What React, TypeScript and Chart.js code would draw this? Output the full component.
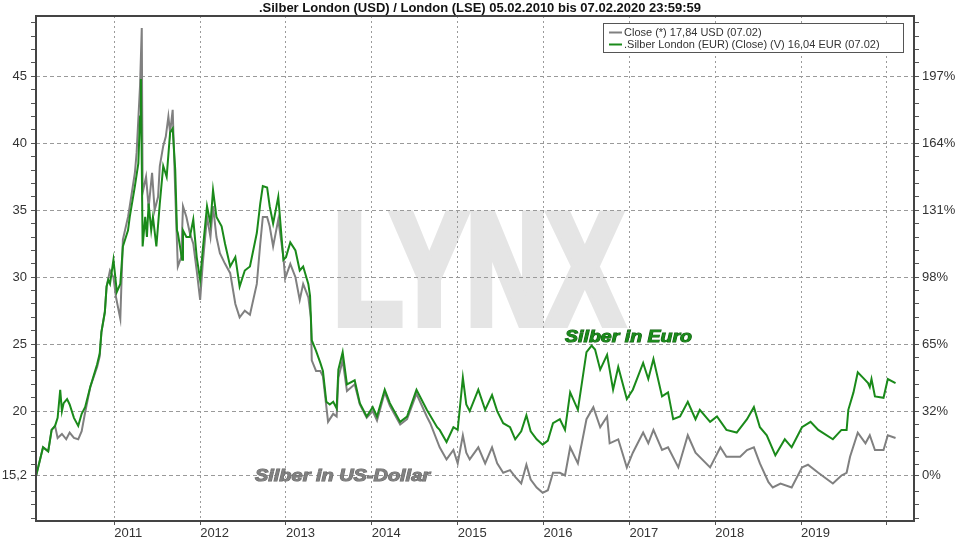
import React, { useEffect, useRef } from 'react';
import { Chart, registerables } from 'chart.js';

Chart.register(...registerables);

const FONT = '"Liberation Sans", Arial, sans-serif';

const TITLE = '.Silber London (USD) / London (LSE) 05.02.2010 bis 07.02.2020 23:59:59';
const LEGEND_LABELS = ['Close (*) 17,84 USD (07.02)', '.Silber London (EUR) (Close) (V) 16,04 EUR (07.02)'];
const LABEL_EUR = 'Silber in Euro';
const LABEL_USD = 'Silber in US-Dollar';
const WATERMARK = 'LYNX';

const YEAR_TICKS = [2011, 2012, 2013, 2014, 2015, 2016, 2017, 2018, 2019, 2020];
const YEAR_LABELS = ['2011', '2012', '2013', '2014', '2015', '2016', '2017', '2018', '2019', ''];
const LEFT_TICKS = [15.2, 20, 25, 30, 35, 40, 45];
const LEFT_LABELS = ['15,2', '20', '25', '30', '35', '40', '45'];
const RIGHT_LABELS = ['0%', '32%', '65%', '98%', '131%', '164%', '197%'];
const MINOR_TICKS = [12, 13, 14, 16, 17, 18, 19, 21, 22, 23, 24, 26, 27, 28, 29, 31, 32, 33, 34, 36, 37, 38, 39, 41, 42, 43, 44, 46, 47, 48, 49];

const X_MIN = 2010.088;
const X_MAX = 2020.315;
const Y_MIN = 11.8;
const Y_MAX = 49.5;

// Close (USD)
const usdDates = [
  2010.09, 2010.17, 2010.23, 2010.27, 2010.31, 2010.34, 2010.39, 2010.44, 2010.48, 2010.53,
  2010.58, 2010.62, 2010.66, 2010.72, 2010.80, 2010.83, 2010.85, 2010.89, 2010.91, 2010.95,
  2010.99, 2011.02, 2011.07, 2011.10, 2011.16, 2011.18, 2011.24, 2011.26, 2011.30, 2011.32,
  2011.33, 2011.37, 2011.40, 2011.44, 2011.47, 2011.51, 2011.53, 2011.57, 2011.60, 2011.63,
  2011.65, 2011.68, 2011.71, 2011.73, 2011.74, 2011.78, 2011.80, 2011.84, 2011.88, 2011.92,
  2011.96, 2012.00, 2012.03, 2012.08, 2012.12, 2012.15, 2012.19, 2012.23, 2012.29, 2012.35,
  2012.41, 2012.46, 2012.52, 2012.58, 2012.66, 2012.70, 2012.73, 2012.78, 2012.81, 2012.85,
  2012.91, 2012.97, 2012.99, 2013.05, 2013.11, 2013.16, 2013.20, 2013.26, 2013.29, 2013.30,
  2013.35, 2013.40, 2013.43, 2013.49, 2013.55, 2013.59, 2013.61, 2013.66, 2013.71, 2013.80,
  2013.86, 2013.94, 2014.01, 2014.06, 2014.15, 2014.21, 2014.33, 2014.41, 2014.52, 2014.64,
  2014.68, 2014.79, 2014.87, 2014.95, 2015.00, 2015.06, 2015.10, 2015.14, 2015.24, 2015.32,
  2015.40, 2015.46, 2015.53, 2015.61, 2015.67, 2015.74, 2015.80, 2015.85, 2015.92, 2015.99,
  2016.05, 2016.11, 2016.19, 2016.25, 2016.31, 2016.40, 2016.50, 2016.58, 2016.66, 2016.74,
  2016.77, 2016.87, 2016.97, 2017.04, 2017.16, 2017.22, 2017.28, 2017.38, 2017.45, 2017.57,
  2017.68, 2017.77, 2017.94, 2018.06, 2018.13, 2018.29, 2018.37, 2018.45, 2018.52, 2018.62,
  2018.67, 2018.76, 2018.89, 2019.01, 2019.08, 2019.20, 2019.37, 2019.47, 2019.53, 2019.57,
  2019.66, 2019.75, 2019.80, 2019.86, 2019.96, 2020.01, 2020.10,
];
const usdValues = [
  15.2, 17.3, 17.0, 18.6, 18.9, 18.0, 18.3, 17.9, 18.4, 18.0,
  17.9, 18.5, 19.9, 21.8, 23.3, 24.1, 25.9, 27.4, 29.3, 30.5,
  30.0, 28.5, 26.9, 32.8, 34.5, 35.3, 37.8, 39.3, 44.3, 48.6,
  36.3, 37.5, 35.2, 37.8, 35.0, 36.0, 38.3, 39.8, 40.5, 42.0,
  40.8, 42.5, 36.3, 32.6, 30.8, 31.5, 35.3, 34.5, 33.3, 32.5,
  30.5, 28.3, 31.0, 34.5, 33.0, 35.3, 33.0, 31.8, 31.0, 30.3,
  28.0, 27.0, 27.5, 27.2, 29.5, 32.5, 34.5, 34.5, 33.8, 32.3,
  34.3, 31.5, 29.9, 31.0, 30.0, 28.3, 29.5, 28.5, 27.0, 23.8,
  23.0, 23.0, 22.6, 19.2, 19.8, 19.6, 22.5, 23.8, 21.5, 22.0,
  20.5, 19.5, 20.0, 19.3, 21.4, 20.4, 19.0, 19.4, 21.3, 19.6,
  19.1, 17.3, 16.4, 17.1, 16.1, 18.2, 16.9, 16.4, 17.3, 16.1,
  17.3, 16.1, 15.4, 15.6, 15.1, 14.6, 16.0, 14.9, 14.3, 13.9,
  14.1, 15.4, 15.4, 15.2, 17.3, 16.1, 19.4, 20.3, 18.8, 19.6,
  17.6, 17.9, 15.8, 16.9, 18.4, 17.6, 18.6, 17.1, 17.3, 15.8,
  18.2, 16.9, 15.8, 17.3, 16.6, 16.6, 17.1, 17.3, 16.1, 14.7,
  14.3, 14.6, 14.3, 15.8, 16.0, 15.4, 14.6, 15.2, 15.4, 16.6,
  18.4, 17.6, 18.2, 17.1, 17.1, 18.2, 18.0,
];

// .Silber London (EUR), rebased (V)
const eurDates = [
  2010.09, 2010.17, 2010.23, 2010.27, 2010.31, 2010.34, 2010.37, 2010.39, 2010.41, 2010.45,
  2010.48, 2010.53, 2010.58, 2010.62, 2010.66, 2010.72, 2010.80, 2010.83, 2010.85, 2010.89,
  2010.91, 2010.93, 2010.95, 2010.99, 2011.03, 2011.07, 2011.10, 2011.16, 2011.18, 2011.24,
  2011.28, 2011.30, 2011.31, 2011.33, 2011.36, 2011.38, 2011.40, 2011.43, 2011.45, 2011.49,
  2011.53, 2011.57, 2011.61, 2011.65, 2011.68, 2011.71, 2011.73, 2011.74, 2011.79, 2011.80,
  2011.84, 2011.88, 2011.92, 2011.96, 2012.00, 2012.03, 2012.08, 2012.12, 2012.15, 2012.19,
  2012.25, 2012.29, 2012.35, 2012.41, 2012.46, 2012.52, 2012.58, 2012.66, 2012.70, 2012.73,
  2012.78, 2012.81, 2012.85, 2012.91, 2012.97, 2013.00, 2013.05, 2013.11, 2013.16, 2013.20,
  2013.26, 2013.28, 2013.30, 2013.35, 2013.40, 2013.43, 2013.47, 2013.51, 2013.55, 2013.59,
  2013.61, 2013.66, 2013.71, 2013.80, 2013.86, 2013.94, 2014.01, 2014.06, 2014.15, 2014.21,
  2014.33, 2014.41, 2014.52, 2014.64, 2014.76, 2014.79, 2014.87, 2014.95, 2015.00, 2015.06,
  2015.10, 2015.14, 2015.24, 2015.32, 2015.40, 2015.46, 2015.53, 2015.61, 2015.67, 2015.74,
  2015.80, 2015.85, 2015.92, 2015.99, 2016.05, 2016.11, 2016.19, 2016.25, 2016.31, 2016.40,
  2016.50, 2016.56, 2016.60, 2016.66, 2016.74, 2016.81, 2016.87, 2016.97, 2017.04, 2017.16,
  2017.22, 2017.28, 2017.38, 2017.45, 2017.51, 2017.59, 2017.68, 2017.77, 2017.82, 2017.94,
  2018.02, 2018.13, 2018.25, 2018.37, 2018.45, 2018.52, 2018.60, 2018.70, 2018.81, 2018.89,
  2019.01, 2019.11, 2019.20, 2019.37, 2019.47, 2019.53, 2019.55, 2019.61, 2019.66, 2019.72,
  2019.78, 2019.80, 2019.82, 2019.86, 2019.96, 2020.01, 2020.10,
];
const eurValues = [
  15.2, 17.3, 17.0, 18.6, 18.9, 19.5, 21.6, 20.0, 20.6, 20.9,
  20.5, 19.5, 18.9, 19.8, 20.3, 21.8, 23.5, 24.3, 25.9, 27.4,
  29.3, 29.8, 29.5, 31.3, 28.9, 29.5, 32.3, 33.5, 34.5, 36.8,
  38.5, 42.0, 44.8, 32.3, 34.5, 33.0, 35.5, 33.5, 34.5, 32.3,
  35.5, 38.3, 37.5, 40.8, 41.1, 38.0, 33.5, 33.3, 31.3, 33.5,
  33.0, 33.0, 34.3, 31.5, 29.8, 32.0, 35.3, 34.0, 36.5, 34.5,
  33.8, 32.5, 30.8, 31.5, 29.3, 30.5, 30.8, 33.3, 35.5, 36.8,
  36.7, 35.3, 34.0, 36.0, 31.3, 31.5, 32.6, 32.0, 30.5, 30.8,
  29.5, 28.6, 25.3, 24.5, 23.6, 23.0, 20.7, 20.5, 20.7, 20.2,
  23.1, 24.4, 22.0, 22.3, 20.6, 19.6, 20.3, 19.6, 21.6, 20.6,
  19.2, 19.6, 21.6, 20.1, 18.8, 18.6, 17.7, 18.8, 18.6, 22.5,
  20.5, 20.0, 21.6, 20.1, 21.2, 20.0, 19.1, 18.8, 17.9, 18.5,
  19.7, 18.5, 17.9, 17.5, 17.8, 19.1, 19.4, 18.6, 21.4, 20.1,
  24.4, 24.9, 24.6, 23.1, 24.2, 21.6, 23.3, 20.9, 21.6, 23.6,
  22.4, 23.9, 21.1, 21.4, 19.4, 19.6, 20.7, 19.4, 20.1, 19.2,
  19.6, 18.6, 18.4, 19.4, 20.3, 18.8, 18.2, 16.7, 17.9, 17.3,
  18.8, 19.2, 18.6, 17.9, 18.6, 18.6, 20.1, 21.4, 22.9, 22.5,
  22.1, 21.8, 22.4, 21.1, 21.0, 22.4, 22.1,
];

const GREEN = '#1a8a1a';
const GREY = '#808080';

const findIdx = (arr: number[], v: number) => arr.findIndex((a) => Math.abs(a - v) < 1e-6);

const decorPlugin = {
  id: 'decor',
  beforeDraw(chart: any) {
    const { ctx } = chart;
    ctx.save();
    ctx.fillStyle = '#ffffff';
    ctx.fillRect(0, 0, chart.width, chart.height);
    // watermark
    ctx.font = `bold 155px "Liberation Sans Narrow", "Liberation Sans", Arial, sans-serif`;
    ctx.textBaseline = 'alphabetic';
    ctx.textAlign = 'left';
    const w = ctx.measureText(WATERMARK).width;
    ctx.translate(334, 323);
    ctx.scale(288 / w, 1);
    ctx.fillStyle = '#e5e5e5';
    ctx.strokeStyle = '#e5e5e5';
    ctx.lineWidth = 10;
    ctx.lineJoin = 'miter';
    ctx.strokeText(WATERMARK, 0, 0);
    ctx.fillText(WATERMARK, 0, 0);
    ctx.restore();
  },
  afterDatasetsDraw(chart: any) {
    const { ctx, chartArea: a } = chart;
    const drawFit = (text: string, x: number, y: number, width: number, color: string) => {
      ctx.save();
      ctx.font = `italic bold 17px ${FONT}`;
      ctx.textBaseline = 'alphabetic';
      ctx.textAlign = 'left';
      const w = ctx.measureText(text).width;
      ctx.translate(x, y);
      ctx.scale(width / w, 1);
      ctx.lineWidth = 1;
      ctx.strokeStyle = color === GREEN ? '#0d5a0d' : '#666666';
      ctx.strokeText(text, 0, 0);
      ctx.fillStyle = color;
      ctx.fillText(text, 0, 0);
      ctx.restore();
    };
    drawFit(LABEL_EUR, 565, 342, 127, GREEN);
    drawFit(LABEL_USD, 255, 481, 175, GREY);
    // frame
    ctx.save();
    ctx.strokeStyle = '#444444';
    ctx.lineWidth = 2;
    ctx.strokeRect(a.left, a.top, a.right - a.left, a.bottom - a.top);
    ctx.restore();
  },
  afterDraw(chart: any) {
    const { ctx } = chart;
    ctx.save();
    ctx.fillStyle = '#111111';
    ctx.font = `bold 13px ${FONT}`;
    ctx.textAlign = 'center';
    ctx.textBaseline = 'middle';
    ctx.fillText(TITLE, 480, 8.5);
    // legend box
    ctx.fillStyle = '#ffffff';
    ctx.fillRect(603.5, 23.5, 300, 29);
    ctx.strokeStyle = '#555555';
    ctx.lineWidth = 1;
    ctx.strokeRect(603.5, 23.5, 300, 29);
    const rows = [
      { y: 32.5, color: GREY, text: LEGEND_LABELS[0] },
      { y: 44.5, color: GREEN, text: LEGEND_LABELS[1] },
    ];
    ctx.font = `11px ${FONT}`;
    ctx.textAlign = 'left';
    rows.forEach((r) => {
      ctx.strokeStyle = r.color;
      ctx.lineWidth = 2;
      ctx.beginPath();
      ctx.moveTo(609, r.y);
      ctx.lineTo(622, r.y);
      ctx.stroke();
      ctx.fillStyle = '#333333';
      ctx.fillText(r.text, 624, r.y + 0.5);
    });
    ctx.restore();
  },
};

export default function App() {
  const ref = useRef<HTMLCanvasElement | null>(null);

  useEffect(() => {
    if (!ref.current) return;
    const usd = usdDates.map((d, i) => ({ x: d, y: usdValues[i] }));
    const eur = eurDates.map((d, i) => ({ x: d, y: eurValues[i] }));
    const yTicks = () => [...LEFT_TICKS, ...MINOR_TICKS].sort((a, b) => a - b).map((v) => ({ value: v }));
    const gridColor = (c: any) => (c.tick && findIdx(LEFT_TICKS, c.tick.value) >= 0 ? '#9a9a9a' : 'rgba(0,0,0,0)');

    const chart = new Chart(ref.current, {
      type: 'line',
      data: {
        datasets: [
          {
            label: LEGEND_LABELS[1],
            data: eur,
            borderColor: GREEN,
            borderWidth: 2,
            pointRadius: 0,
            tension: 0,
            fill: false,
            yAxisID: 'y',
          },
          {
            label: LEGEND_LABELS[0],
            data: usd,
            borderColor: GREY,
            borderWidth: 2,
            pointRadius: 0,
            tension: 0,
            fill: false,
            yAxisID: 'y',
          },
        ],
      },
      options: {
        animation: false,
        responsive: false,
        maintainAspectRatio: false,
        layout: { padding: { top: 16, left: 0, right: 0, bottom: 0 } },
        plugins: {
          legend: { display: false },
          title: { display: false },
          tooltip: { enabled: false },
        },
        scales: {
          x: {
            type: 'linear',
            position: 'bottom',
            min: X_MIN,
            max: X_MAX,
            afterBuildTicks: (s: any) => {
              s.ticks = YEAR_TICKS.map((v) => ({ value: v }));
            },
            afterFit: (s: any) => {
              s.height = 19;
            },
            ticks: {
              autoSkip: false,
              maxRotation: 0,
              minRotation: 0,
              align: 'start',
              padding: 1,
              color: '#333333',
              font: { family: FONT, size: 13 },
              callback: (v: any) => {
                const i = findIdx(YEAR_TICKS, Number(v));
                return i >= 0 ? YEAR_LABELS[i] : '';
              },
            },
            grid: { color: '#9a9a9a', lineWidth: 1, tickLength: 4, tickColor: '#555555', tickWidth: 1 },
            border: { display: false, dash: [2, 3] },
          },
          y: {
            type: 'linear',
            position: 'left',
            min: Y_MIN,
            max: Y_MAX,
            afterBuildTicks: (s: any) => {
              s.ticks = yTicks();
            },
            afterFit: (s: any) => {
              s.width = 36;
            },
            ticks: {
              autoSkip: false,
              padding: 4,
              color: '#333333',
              font: { family: FONT, size: 13 },
              callback: (v: any) => {
                const i = findIdx(LEFT_TICKS, Number(v));
                return i >= 0 ? LEFT_LABELS[i] : '';
              },
            },
            grid: { color: gridColor, lineWidth: 1, tickLength: 5, tickColor: '#555555', tickWidth: 1 },
            border: { display: false, dash: [4, 3] },
          },
          y2: {
            type: 'linear',
            position: 'right',
            min: Y_MIN,
            max: Y_MAX,
            afterBuildTicks: (s: any) => {
              s.ticks = yTicks();
            },
            afterFit: (s: any) => {
              s.width = 46;
            },
            ticks: {
              autoSkip: false,
              padding: 3,
              color: '#333333',
              font: { family: FONT, size: 13 },
              callback: (v: any) => {
                const i = findIdx(LEFT_TICKS, Number(v));
                return i >= 0 ? RIGHT_LABELS[i] : '';
              },
            },
            grid: { drawOnChartArea: false, tickLength: 5, tickColor: '#555555', tickWidth: 1 },
            border: { display: false },
          },
        },
      } as any,
      plugins: [decorPlugin],
    });
    return () => chart.destroy();
  }, []);

  return (
    <div style={{ position: 'fixed', left: 0, top: 0, width: 960, height: 540, background: '#fff' }}>
      <canvas ref={ref} width={960} height={540} style={{ display: 'block' }} />
    </div>
  );
}
